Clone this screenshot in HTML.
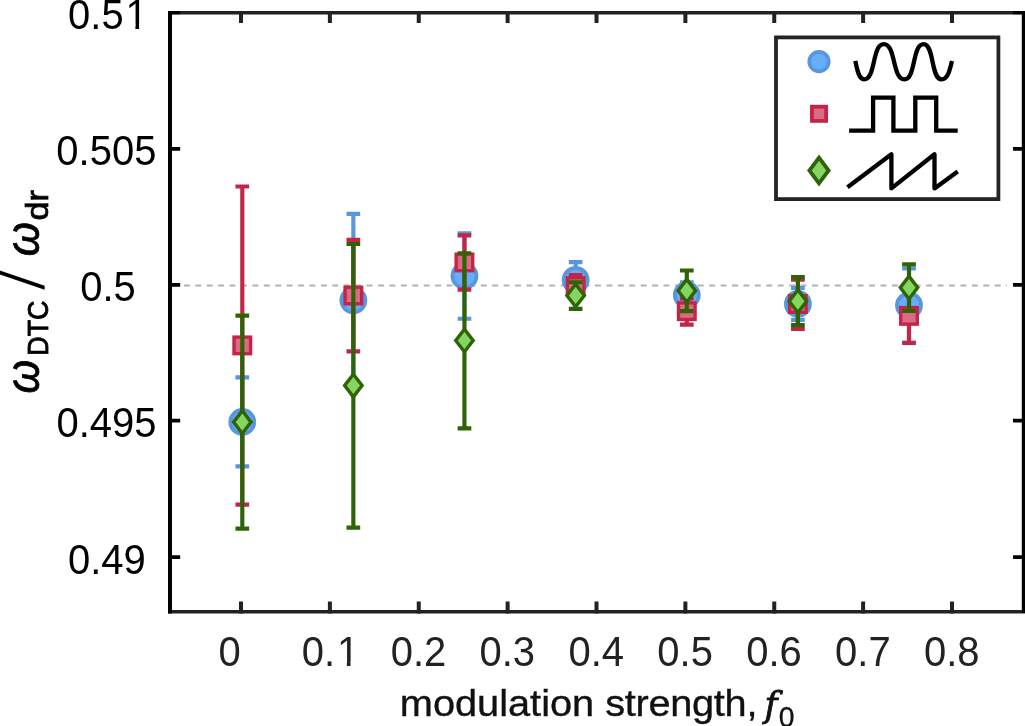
<!DOCTYPE html>
<html lang="en">
<head>
<meta charset="utf-8">
<title>DTC frequency vs modulation strength</title>
<style>
html,body{margin:0;padding:0;background:#fff;}
body{width:1025px;height:726px;overflow:hidden;}
svg{display:block;font-family:"Liberation Sans",sans-serif;}
</style>
</head>
<body>
<svg width="1025" height="726" viewBox="0 0 1025 726">
<defs><clipPath id="nofoot0_"><rect x="-2" y="-40" width="67.16" height="36.2"/><rect x="-2" y="-4" width="38.36" height="8"/><rect x="45.11" y="-4" width="3.65" height="6"/></clipPath><clipPath id="nofoot0_5"><rect x="-2" y="-40" width="89.41" height="36.2"/><rect x="-2" y="-4" width="60.61" height="8"/><rect x="67.36" y="-4" width="3.65" height="6"/></clipPath></defs>
<rect width="1025" height="726" fill="#fff"/>
<path d="M172.5 285.5H1007" stroke="#b1b1b1" stroke-width="2" stroke-dasharray="5.85 5.57" fill="none"/>
<g id="series-sine">
<path d="M242.3 377.4V466.4M235.45 377.4H249.15M235.45 466.4H249.15" stroke="#5997dd" stroke-width="4.15" fill="none"/>
<circle cx="242.3" cy="422" r="12.0" fill="#66adfb" stroke="#5997dd" stroke-width="3.8"/>
<path d="M353.35 213.9V386.7M346.5 213.9H360.2M346.5 386.7H360.2" stroke="#5997dd" stroke-width="4.15" fill="none"/>
<circle cx="353.35" cy="300.3" r="12.0" fill="#66adfb" stroke="#5997dd" stroke-width="3.8"/>
<path d="M464.45 233.3V318.7M457.6 233.3H471.3M457.6 318.7H471.3" stroke="#5997dd" stroke-width="4.15" fill="none"/>
<circle cx="464.45" cy="275.9" r="12.0" fill="#66adfb" stroke="#5997dd" stroke-width="3.8"/>
<path d="M575.65 262.1V297.7M568.8 262.1H582.5M568.8 297.7H582.5" stroke="#5997dd" stroke-width="4.15" fill="none"/>
<circle cx="575.65" cy="279.9" r="12.0" fill="#66adfb" stroke="#5997dd" stroke-width="3.8"/>
<path d="M686.8 282.4V307.6M679.95 282.4H693.65M679.95 307.6H693.65" stroke="#5997dd" stroke-width="4.15" fill="none"/>
<circle cx="686.8" cy="295" r="12.0" fill="#66adfb" stroke="#5997dd" stroke-width="3.8"/>
<path d="M797.9 288V319.8M791.05 288H804.75M791.05 319.8H804.75" stroke="#5997dd" stroke-width="4.15" fill="none"/>
<circle cx="797.9" cy="303.9" r="12.0" fill="#66adfb" stroke="#5997dd" stroke-width="3.8"/>
<path d="M909 268.5V342.5M902.15 268.5H915.85M902.15 342.5H915.85" stroke="#5997dd" stroke-width="4.15" fill="none"/>
<circle cx="909" cy="305.3" r="12.0" fill="#66adfb" stroke="#5997dd" stroke-width="3.8"/>
</g>
<g id="series-square">
<path d="M242.3 186.5V504.6M235.45 186.5H249.15M235.45 504.6H249.15" stroke="#c22547" stroke-width="4.15" fill="none"/>
<rect x="234" y="337.1" width="16.6" height="16.6" fill="#d96b83" stroke="#c22547" stroke-width="3.35"/>
<path d="M353.35 239.9V351.4M346.5 239.9H360.2M346.5 351.4H360.2" stroke="#c22547" stroke-width="4.15" fill="none"/>
<rect x="345.05" y="287.2" width="16.6" height="16.6" fill="#d96b83" stroke="#c22547" stroke-width="3.35"/>
<path d="M464.45 235.3V289.65M457.6 235.3H471.3M457.6 289.65H471.3" stroke="#c22547" stroke-width="4.15" fill="none"/>
<rect x="456.15" y="254.1" width="16.6" height="16.6" fill="#d96b83" stroke="#c22547" stroke-width="3.35"/>
<path d="M575.65 275V297.2M568.8 275H582.5M568.8 297.2H582.5" stroke="#c22547" stroke-width="4.15" fill="none"/>
<rect x="567.35" y="277.8" width="16.6" height="16.6" fill="#d96b83" stroke="#c22547" stroke-width="3.35"/>
<path d="M686.8 298.5V324.65M679.95 298.5H693.65M679.95 324.65H693.65" stroke="#c22547" stroke-width="4.15" fill="none"/>
<rect x="678.5" y="302.9" width="16.6" height="16.6" fill="#d96b83" stroke="#c22547" stroke-width="3.35"/>
<path d="M797.9 279.6V328.9M791.05 279.6H804.75M791.05 328.9H804.75" stroke="#c22547" stroke-width="4.15" fill="none"/>
<rect x="789.6" y="295.75" width="16.6" height="16.6" fill="#d96b83" stroke="#c22547" stroke-width="3.35"/>
<path d="M909 288.7V343M902.15 288.7H915.85M902.15 343H915.85" stroke="#c22547" stroke-width="4.15" fill="none"/>
<rect x="900.7" y="307.55" width="16.6" height="16.6" fill="#d96b83" stroke="#c22547" stroke-width="3.35"/>
</g>
<g id="series-saw">
<path d="M242.3 315.6V528.6M235.45 315.6H249.15M235.45 528.6H249.15" stroke="#2e6406" stroke-width="4.15" fill="none"/>
<path d="M242.3 410.78L251.03 422.1L242.3 433.42L233.57 422.1Z" fill="#86d560" stroke="#2e6406" stroke-width="3.4" stroke-linejoin="miter"/>
<path d="M353.35 244V527.6M346.5 244H360.2M346.5 527.6H360.2" stroke="#2e6406" stroke-width="4.15" fill="none"/>
<path d="M353.35 374.23L362.08 385.55L353.35 396.87L344.62 385.55Z" fill="#86d560" stroke="#2e6406" stroke-width="3.4" stroke-linejoin="miter"/>
<path d="M464.45 253.2V428.3M457.6 253.2H471.3M457.6 428.3H471.3" stroke="#2e6406" stroke-width="4.15" fill="none"/>
<path d="M464.45 329.18L473.18 340.5L464.45 351.82L455.72 340.5Z" fill="#86d560" stroke="#2e6406" stroke-width="3.4" stroke-linejoin="miter"/>
<path d="M575.65 282.2V308.8M568.8 282.2H582.5M568.8 308.8H582.5" stroke="#2e6406" stroke-width="4.15" fill="none"/>
<path d="M575.65 284.18L584.38 295.5L575.65 306.82L566.92 295.5Z" fill="#86d560" stroke="#2e6406" stroke-width="3.4" stroke-linejoin="miter"/>
<path d="M686.8 270.5V311.05M679.95 270.5H693.65M679.95 311.05H693.65" stroke="#2e6406" stroke-width="4.15" fill="none"/>
<path d="M686.8 279.38L695.53 290.7L686.8 302.02L678.07 290.7Z" fill="#86d560" stroke="#2e6406" stroke-width="3.4" stroke-linejoin="miter"/>
<path d="M797.9 277.1V325.1M791.05 277.1H804.75M791.05 325.1H804.75" stroke="#2e6406" stroke-width="4.15" fill="none"/>
<path d="M797.9 289.93L806.63 301.25L797.9 312.57L789.17 301.25Z" fill="#86d560" stroke="#2e6406" stroke-width="3.4" stroke-linejoin="miter"/>
<path d="M909 264.3V311M902.15 264.3H915.85M902.15 311H915.85" stroke="#2e6406" stroke-width="4.15" fill="none"/>
<path d="M909 276.28L917.73 287.6L909 298.92L900.27 287.6Z" fill="#86d560" stroke="#2e6406" stroke-width="3.4" stroke-linejoin="miter"/>
</g>
<g id="axes">
<path d="M168 12.8H1025M168 611.8H1025" stroke="#222222" stroke-width="3.6" fill="none"/>
<path d="M241 11V23M241 601.5V613.6M329.88 11V23M329.88 601.5V613.6M418.75 11V23M418.75 601.5V613.6M507.62 11V23M507.62 601.5V613.6M596.5 11V23M596.5 601.5V613.6M685.38 11V23M685.38 601.5V613.6M774.25 11V23M774.25 601.5V613.6M863.12 11V23M863.12 601.5V613.6M952 11V23M952 601.5V613.6" stroke="#222222" stroke-width="4" fill="none"/>
<path d="M170 11V613.6M1023.8 11V613.1" stroke="#000" stroke-width="4" fill="none"/>
<path d="M168 148.85H180.2M1013 148.85H1025M168 284.9H180.2M1013 284.9H1025M168 420.6H180.2M1013 420.6H1025M168 557.1H180.2M1013 557.1H1025" stroke="#000" stroke-width="3.8" fill="none"/>
<path d="M168 12.6H180.2M1013 12.6H1025" stroke="#000" stroke-width="3.3" fill="none"/>
</g>
<g id="legend">
<rect x="776" y="37.4" width="222.4" height="161.7" fill="#fff" stroke="#242424" stroke-width="3.8"/>
<circle cx="819" cy="61.6" r="9.75" fill="#66adfb" stroke="#5997dd" stroke-width="3.7"/>
<rect x="811.95" y="106.7" width="14.2" height="14.2" fill="#d96b83" stroke="#c22547" stroke-width="3.8"/>
<path d="M819 157.7L828.6 170.5L819 183.3L809.4 170.5Z" fill="#86d560" stroke="#2e6406" stroke-width="3.8"/>
<path d="M855.35 60.96C857.12 69.99 858.79 79.3 864.1 79.3C875.89 79.3 871.96 44.2 883.75 44.2C896.14 44.2 892.01 79.3 904.4 79.3C915.92 79.3 912.08 44.2 923.6 44.2C934.34 44.2 930.76 79.3 941.5 79.3C947.87 79.3 949.86 69.99 951.99 60.96" fill="none" stroke="#000" stroke-width="4.3"/>
<path d="M849.1 130.7H873.1V97.65H893.4V130.7H915.3V97.65H936.2V130.7H957.7" fill="none" stroke="#000" stroke-width="4.3"/>
<path d="M847.5 187.3L891.4 154.3V188.4L934.5 154.3V188.4L957.7 171.5" fill="none" stroke="#000" stroke-width="4.3" stroke-linejoin="round"/>
</g>
<g id="ticklabels">
<g font-size="40" fill="#222"><text transform="translate(229.55 665.6) scale(1 1.05)" text-anchor="middle">0</text><text transform="translate(301.77 665.6) scale(1 1.05)" clip-path="url(#nofoot0_)">0.<tspan dx="1.8">1</tspan></text><text transform="translate(418.45 665.6) scale(1 1.05)" text-anchor="middle">0.2</text><text transform="translate(507.32 665.6) scale(1 1.05)" text-anchor="middle">0.3</text><text transform="translate(596.2 665.6) scale(1 1.05)" text-anchor="middle">0.4</text><text transform="translate(685.08 665.6) scale(1 1.05)" text-anchor="middle">0.5</text><text transform="translate(773.95 665.6) scale(1 1.05)" text-anchor="middle">0.6</text><text transform="translate(862.83 665.6) scale(1 1.05)" text-anchor="middle">0.7</text><text transform="translate(951.7 665.6) scale(1 1.05)" text-anchor="middle">0.8</text></g>
<g font-size="40" fill="#000"><text transform="translate(68.07 28.6) scale(1 1.05)" clip-path="url(#nofoot0_5)">0.5<tspan dx="1.8">1</tspan></text><text transform="translate(106.35 165.25) scale(1 1.05)" text-anchor="middle">0.505</text><text transform="translate(108 301.4) scale(1 1.05)" text-anchor="middle">0.5</text><text transform="translate(106.55 437) scale(1 1.05)" text-anchor="middle">0.495</text><text transform="translate(106.85 573.5) scale(1 1.05)" text-anchor="middle">0.49</text></g>
</g>
<g id="titles">
<g font-size="100" fill="#111" stroke="#111"><text transform="translate(399.8 716.4) scale(0.3975 0.375)" stroke-width="1">modulation <tspan letter-spacing="-0.75">strength, </tspan></text><text transform="translate(764.4 716.6) scale(0.352 0.362)" font-family="'DejaVu Serif','Liberation Serif',serif" font-style="italic" stroke-width="2.4">f</text><text transform="translate(778.7 726.7) scale(0.283 0.287)" stroke-width="1.0">0</text></g>
<g transform="translate(0 392.4) rotate(-90)" font-size="100" fill="#000" stroke="#000"><text transform="translate(-1.1 38.83) scale(0.431 0.467)" font-style="italic" stroke-width="1.8">ω</text><text transform="translate(36.65 48.1) scale(0.2687 0.3042)" stroke-width="2.8">DTC</text><text transform="translate(102.7 44.1) skewX(-6.95) scale(0.52 0.64)" stroke="none">/</text><text transform="translate(136.1 38.83) scale(0.438 0.467)" font-style="italic" stroke-width="1.8">ω</text><text transform="translate(171.93 47.88) scale(0.3413 0.3211)" stroke-width="2.4">dr</text></g>
</g>
</svg>
</body>
</html>
